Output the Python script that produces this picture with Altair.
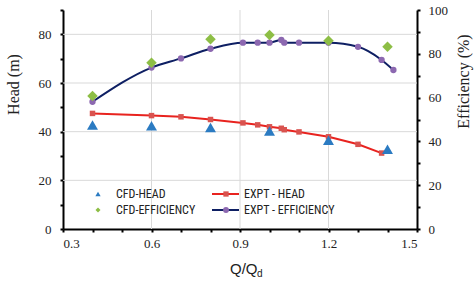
import altair as alt
import pandas as pd

# Flow ratio Q/Qd for the measured (EXPT) series
q_expt_head = [0.4, 0.6, 0.7, 0.8, 0.91, 0.96, 1.0, 1.04, 1.05, 1.1, 1.2, 1.3, 1.38]
head_expt = [47.5, 46.6, 46.1, 45.0, 43.6, 42.8, 42.0, 41.4, 40.8, 39.9, 37.9, 34.8, 31.2]

q_expt_eff = [0.4, 0.6, 0.7, 0.8, 0.91, 0.96, 1.0, 1.04, 1.05, 1.1, 1.2, 1.3, 1.38, 1.42]
eff_expt = [58.1, 73.7, 77.9, 82.3, 85.1, 85.1, 85.1, 86.3, 85.1, 85.1, 85.1, 83.2, 77.2, 72.6]

# CFD predictions
q_cfd = [0.4, 0.6, 0.8, 1.0, 1.2, 1.4]
head_cfd = [42.7, 42.4, 41.7, 40.3, 36.5, 32.8]
eff_cfd = [60.7, 75.9, 86.6, 88.6, 86.0, 83.2]

# Axis ticks and grid positions
x_ticks = [0.3, 0.4, 0.5, 0.6, 0.7, 0.8, 0.9, 1.0, 1.1, 1.2, 1.3, 1.4, 1.5]
x_grid = [0.6, 0.9, 1.2]
head_ticks = [0, 10, 20, 30, 40, 50, 60, 70, 80, 90]
head_grid = [20, 40, 60, 80]
eff_ticks = [0, 10, 20, 30, 40, 50, 60, 70, 80, 90, 100]

legend_labels = ["CFD-HEAD", "CFD-EFFICIENCY", "EXPT - HEAD", "EXPT - EFFICIENCY"]

W, H = 354, 219
SERIF = "Liberation Serif"
SANS = "Liberation Sans Narrow, Roboto Condensed, Liberation Sans"

RED_LINE = "#E8231F"
RED_PT = "#D9534F"
NAVY = "#0E1F63"
PURPLE = "#8C68B0"
BLUE = "#2B7BC2"
GREEN = "#8DBE45"
GRID = "#D9D9D9"

x_axis = alt.Axis(
    values=x_ticks,
    labelExpr="abs(round(datum.value * 10) % 3) == 0 ? format(datum.value, '.1f') : ''",
    grid=False, domainColor="black", domainWidth=2, tickColor="black",
    tickSize=3, tickWidth=2, labelFont=SERIF, labelFontSize=13,
    labelColor="#222", labelPadding=5, title=None,
)
x_enc = alt.X("q:Q", scale=alt.Scale(domain=[0.3, 1.5], nice=False, zero=False), axis=x_axis)

head_axis = alt.Axis(
    orient="left", values=head_ticks,
    labelExpr="datum.value % 20 == 0 ? datum.label : ''",
    grid=False, domainColor="black", domainWidth=2, tickColor="black",
    tickSize=3, tickWidth=2, labelFont=SERIF, labelFontSize=13,
    labelColor="#222", labelPadding=9, title="Head (m)", titleFont=SERIF,
    titleFontSize=16, titleFontWeight="normal", titleColor="#222",
    titleAngle=270, titleAlign="center", titleBaseline="middle",
    titleX=-50, titleY=74,
)
head_scale = alt.Scale(domain=[0, 90], nice=False)

eff_axis = alt.Axis(
    orient="right", values=eff_ticks,
    labelExpr="datum.value % 20 == 0 ? datum.label : ''",
    grid=False, domainColor="black", domainWidth=2, tickColor="black",
    tickSize=3, tickWidth=2, labelFont=SERIF, labelFontSize=13,
    labelColor="#222", labelPadding=8, title="Efficiency (%)", titleFont=SERIF,
    titleFontSize=16, titleFontWeight="normal", titleColor="#222",
    titleAngle=270, titleAlign="center", titleBaseline="middle",
    titleX=46, titleY=71,
)
eff_scale = alt.Scale(domain=[0, 100], nice=False)

df_head = pd.DataFrame({"q": q_expt_head, "v": head_expt})
df_eff = pd.DataFrame({"q": q_expt_eff, "v": eff_expt})
df_cfd_head = pd.DataFrame({"q": q_cfd, "v": head_cfd})
df_cfd_eff = pd.DataFrame({"q": q_cfd, "v": eff_cfd})
df_hgrid = pd.DataFrame({"v": head_grid})
df_vgrid = pd.DataFrame({"q": x_grid})

y_head = alt.Y("v:Q", scale=head_scale, axis=head_axis)
y_eff = alt.Y("v:Q", scale=eff_scale, axis=eff_axis)

# Gridlines
hgrid = alt.Chart(df_hgrid).mark_rule(color=GRID, strokeWidth=1).encode(
    y=y_head, x=alt.value(0), x2=alt.value(W)
)
vgrid = alt.Chart(df_vgrid).mark_rule(color=GRID, strokeWidth=1).encode(
    x=x_enc, y=alt.value(0), y2=alt.value(H)
)

# Head series (left axis)
head_line = alt.Chart(df_head).mark_line(color=RED_LINE, strokeWidth=2).encode(x=x_enc, y=y_head)
head_pts = alt.Chart(df_head).mark_point(
    shape="square", filled=True, color=RED_PT, size=30, opacity=1
).encode(x=x_enc, y=y_head)
cfd_head_pts = alt.Chart(df_cfd_head).mark_point(
    shape="triangle-up", filled=True, color=BLUE, size=120, opacity=1
).encode(x=x_enc, y=y_head)

head_layer = alt.layer(hgrid, vgrid, head_line, head_pts, cfd_head_pts)

# Efficiency series (right axis)
eff_line = alt.Chart(df_eff).mark_line(
    color=NAVY, strokeWidth=2, interpolate="monotone"
).encode(x=x_enc, y=y_eff)
eff_pts = alt.Chart(df_eff).mark_point(
    shape="circle", filled=True, color=PURPLE, size=40, opacity=1
).encode(x=x_enc, y=y_eff)
cfd_eff_pts = alt.Chart(df_cfd_eff).mark_point(
    shape="diamond", filled=True, color=GREEN, size=110, opacity=1
).encode(x=x_enc, y=y_eff)

eff_layer = alt.layer(eff_line, eff_pts, cfd_eff_pts)

# In-plot legend (two columns)
ROW1, ROW2 = 184, 200
base = alt.Chart(pd.DataFrame({"k": [0]}))


def legend_text(label, x, y):
    return base.mark_text(
        text=label, align="left", baseline="middle", font=SANS, fontSize=12, color="#222"
    ).encode(x=alt.value(x), y=alt.value(y))


def legend_symbol(shape, color, size, x, y):
    return base.mark_point(
        shape=shape, filled=True, color=color, size=size, opacity=1
    ).encode(x=alt.value(x), y=alt.value(y))


def legend_line(color, y):
    return base.mark_rule(color=color, strokeWidth=2).encode(
        x=alt.value(149), x2=alt.value(176), y=alt.value(y)
    )


legend = alt.layer(
    legend_symbol("triangle-up", BLUE, 28, 35, ROW1),
    legend_text(legend_labels[0], 53, ROW1),
    legend_symbol("diamond", GREEN, 25, 35, ROW2),
    legend_text(legend_labels[1], 53, ROW2),
    legend_line(RED_LINE, ROW1),
    legend_symbol("square", RED_PT, 28, 163, ROW1),
    legend_text(legend_labels[2], 181, ROW1),
    legend_line(NAVY, ROW2),
    legend_symbol("circle", PURPLE, 35, 163, ROW2),
    legend_text(legend_labels[3], 181, ROW2),
)

# X-axis title Q/Q_d with subscript
x_title = alt.layer(
    base.mark_text(text="Q/Q", align="left", baseline="alphabetic", font="Liberation Sans",
                   fontSize=15, color="#222").encode(x=alt.value(167), y=alt.value(264)),
    base.mark_text(text="d", align="left", baseline="alphabetic", font="Liberation Sans",
                   fontSize=10, color="#222").encode(x=alt.value(194), y=alt.value(267)),
)

chart = (
    alt.layer(head_layer, eff_layer, legend, x_title)
    .resolve_scale(y="independent")
    .properties(
        width=W, height=H,
        autosize=alt.AutoSizeParams(type="none"),
        padding={"left": 63, "top": 10, "right": 57, "bottom": 55},
        background="white",
    )
    .configure_view(stroke=None)
)

chart.save("out.html", embed_options={"renderer": "svg", "actions": False})
